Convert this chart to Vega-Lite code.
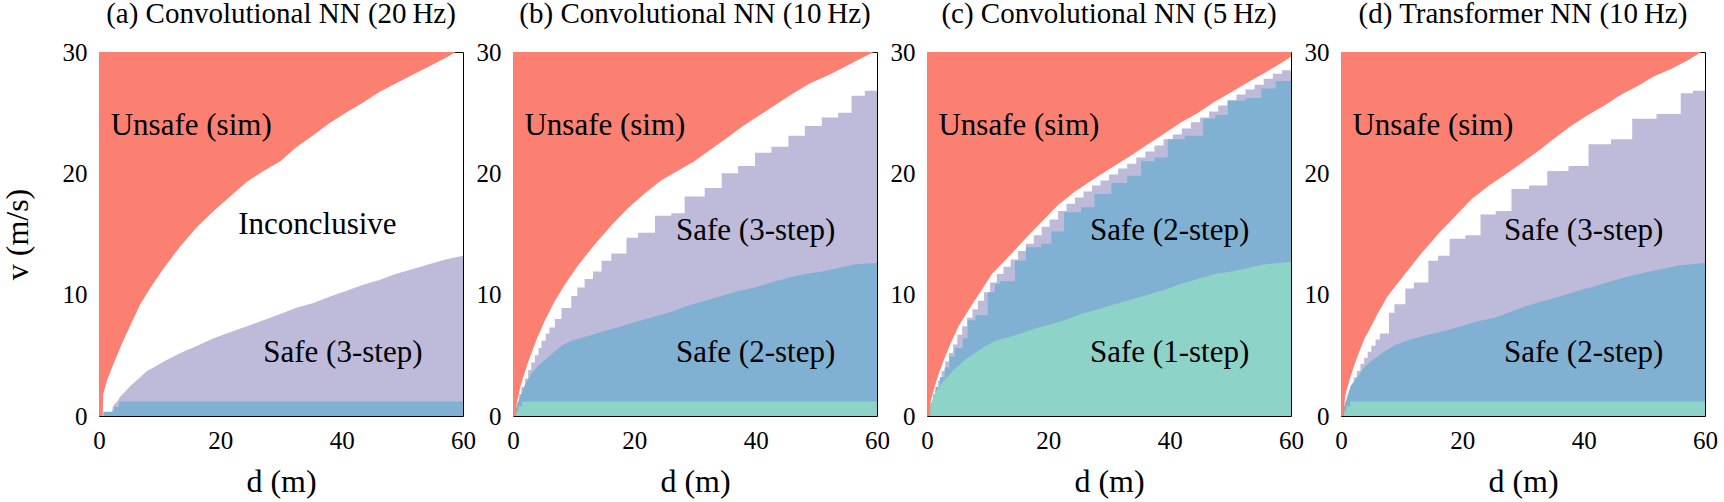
{
"$schema": "https://vega.github.io/schema/vega-lite/v6.json",
"background": "white",
"padding": {"left": 0, "top": -1, "right": 2, "bottom": 2},
"spacing": 50,
"bounds": "flush",
"config": {
  "font": "Liberation Serif",
  "view": {"stroke": "black", "strokeWidth": 1},
  "axis": {"labelFont": "Liberation Serif", "labelFontSize": 25, "labelColor": "black", "labelPadding": 12, "labelFlush": false, "labelOverlap": false, "ticks": false, "domain": false, "grid": false, "titleFont": "Liberation Serif", "titleFontSize": 32, "titleFontWeight": "normal", "titleColor": "black"},
  "axisX": {"titlePadding": 13},
  "axisY": {"titlePadding": 28},
  "title": {"font": "Liberation Serif", "fontSize": 29, "fontWeight": "normal", "color": "black", "anchor": "middle", "baseline": "alphabetic", "offset": 11}
},
"datasets": {
  "labels": [
    {"p":"a","t":"Unsafe (sim)","d":15.2,"v":23.17},
    {"p":"a","t":"Inconclusive","d":36.0,"v":14.96},
    {"p":"a","t":"Safe (3-step)","d":40.2,"v":4.45},
    {"p":"b","t":"Unsafe (sim)","d":15.15,"v":23.17},
    {"p":"b","t":"Safe (3-step)","d":40.0,"v":14.47},
    {"p":"b","t":"Safe (2-step)","d":40.0,"v":4.45},
    {"p":"c","t":"Unsafe (sim)","d":15.15,"v":23.17},
    {"p":"c","t":"Safe (2-step)","d":40.0,"v":14.47},
    {"p":"c","t":"Safe (1-step)","d":40.0,"v":4.45},
    {"p":"d","t":"Unsafe (sim)","d":15.15,"v":23.17},
    {"p":"d","t":"Safe (3-step)","d":40.0,"v":14.47},
    {"p":"d","t":"Safe (2-step)","d":40.0,"v":4.45}
  ],
  "aR": [{"d":0,"v":0},{"d":0.6,"v":0},{"d":0.7,"v":1.8},{"d":1.3,"v":2.9},{"d":2.4,"v":4.3},{"d":3.8,"v":6.0},{"d":5.2,"v":7.5},{"d":6.8,"v":9.2},{"d":8.5,"v":10.6},{"d":10.7,"v":12.2},{"d":13.4,"v":14.0},{"d":16.2,"v":15.6},{"d":18.9,"v":16.9},{"d":21.6,"v":18.1},{"d":24.4,"v":19.3},{"d":27.1,"v":20.2},{"d":29.9,"v":21.0},{"d":32.4,"v":22.1},{"d":35.2,"v":23.1},{"d":37.9,"v":24.1},{"d":40.7,"v":25.0},{"d":43.4,"v":25.8},{"d":46.2,"v":26.7},{"d":48.9,"v":27.4},{"d":51.6,"v":28.1},{"d":54.4,"v":28.8},{"d":57.1,"v":29.5},{"d":58.8,"v":30},{"d":60,"v":30}],
  "aL": [{"d":0,"v":0},{"d":2.0,"v":0},{"d":2.3,"v":0.8},{"d":3.0,"v":1.2},{"d":3.5,"v":1.6},{"d":4.1,"v":1.9},{"d":5.2,"v":2.5},{"d":6.8,"v":3.2},{"d":7.9,"v":3.7},{"d":9.0,"v":4.0},{"d":10.7,"v":4.5},{"d":13.4,"v":5.2},{"d":16.2,"v":5.8},{"d":18.9,"v":6.4},{"d":21.6,"v":6.9},{"d":24.4,"v":7.4},{"d":27.1,"v":7.9},{"d":29.9,"v":8.4},{"d":32.4,"v":8.9},{"d":35.2,"v":9.3},{"d":37.9,"v":9.8},{"d":40.7,"v":10.3},{"d":43.4,"v":10.8},{"d":46.2,"v":11.2},{"d":48.9,"v":11.7},{"d":51.6,"v":12.1},{"d":54.4,"v":12.5},{"d":57.1,"v":12.9},{"d":60,"v":13.2}],
  "aB": [{"d":0,"v":0},{"d":0.7,"v":0.35},{"d":2.5,"v":0.75},{"d":3.3,"v":1.2},{"d":60,"v":1.2}],
  "bR": [{"d":0,"v":0},{"d":0.5,"v":0},{"d":0.6,"v":1.0},{"d":1.3,"v":2.6},{"d":2.4,"v":4.3},{"d":3.8,"v":6.2},{"d":5.2,"v":7.8},{"d":6.8,"v":9.4},{"d":8.5,"v":10.8},{"d":10.7,"v":12.4},{"d":13.4,"v":14.1},{"d":16.2,"v":15.7},{"d":18.9,"v":17.1},{"d":21.6,"v":18.3},{"d":24.4,"v":19.4},{"d":27.1,"v":20.2},{"d":29.9,"v":21.0},{"d":32.4,"v":21.9},{"d":35.2,"v":22.9},{"d":37.9,"v":23.9},{"d":40.7,"v":24.8},{"d":43.4,"v":25.7},{"d":46.2,"v":26.6},{"d":48.9,"v":27.4},{"d":51.6,"v":28.0},{"d":54.4,"v":28.7},{"d":57.1,"v":29.4},{"d":59.5,"v":30},{"d":60,"v":30}],
  "bL": [{"d":0,"v":0},{"d":0.4,"v":0.6},{"d":0.7,"v":1.2},{"d":1.0,"v":1.8},{"d":1.4,"v":2.4},{"d":2.0,"v":3.1},{"d":2.5,"v":3.8},{"d":3.0,"v":4.4},{"d":3.6,"v":5.0},{"d":4.2,"v":5.6},{"d":4.7,"v":6.2},{"d":5.4,"v":6.8},{"d":6.0,"v":7.3},{"d":6.9,"v":8.0},{"d":8.0,"v":8.9},{"d":9.6,"v":9.9},{"d":10.6,"v":10.6},{"d":11.8,"v":11.3},{"d":13.2,"v":11.9},{"d":14.6,"v":12.8},{"d":16.2,"v":13.4},{"d":18.7,"v":14.7},{"d":20.6,"v":15.1},{"d":23.4,"v":16.5},{"d":26.1,"v":16.7},{"d":28.3,"v":18.1},{"d":31.6,"v":18.8},{"d":34.4,"v":20.0},{"d":37.1,"v":20.6},{"d":39.9,"v":21.7},{"d":42.6,"v":22.2},{"d":45.4,"v":23.1},{"d":48.1,"v":23.9},{"d":50.9,"v":24.6},{"d":53.6,"v":25.0},{"d":55.8,"v":26.4},{"d":58.0,"v":26.8},{"d":60,"v":27.0}],
  "bB": [{"d":0,"v":0},{"d":0.3,"v":0},{"d":0.4,"v":0.5},{"d":0.8,"v":1.1},{"d":1.9,"v":2.5},{"d":3.0,"v":3.5},{"d":4.1,"v":4.1},{"d":5.2,"v":4.6},{"d":6.6,"v":5.2},{"d":8.0,"v":5.8},{"d":9.6,"v":6.2},{"d":12.4,"v":6.6},{"d":15.1,"v":7.0},{"d":17.9,"v":7.4},{"d":20.6,"v":7.8},{"d":23.4,"v":8.2},{"d":26.1,"v":8.6},{"d":28.9,"v":9.1},{"d":31.6,"v":9.5},{"d":34.4,"v":9.9},{"d":37.1,"v":10.3},{"d":39.9,"v":10.6},{"d":42.6,"v":11.0},{"d":45.4,"v":11.4},{"d":48.1,"v":11.7},{"d":50.9,"v":11.9},{"d":53.6,"v":12.2},{"d":56.4,"v":12.5},{"d":60,"v":12.6}],
  "bT": [{"d":0,"v":0},{"d":0.3,"v":0.4},{"d":0.9,"v":0.8},{"d":1.5,"v":1.2},{"d":60,"v":1.2}],
  "cR": [{"d":0,"v":0},{"d":0.5,"v":0},{"d":0.6,"v":1.2},{"d":1.2,"v":2.3},{"d":1.8,"v":3.3},{"d":2.4,"v":4.1},{"d":3.0,"v":4.9},{"d":4.0,"v":6.1},{"d":5.2,"v":7.4},{"d":6.8,"v":8.7},{"d":8.5,"v":10.0},{"d":10.7,"v":11.7},{"d":13.4,"v":13.1},{"d":16.2,"v":14.6},{"d":18.9,"v":16.0},{"d":21.6,"v":17.4},{"d":24.4,"v":18.5},{"d":27.1,"v":19.4},{"d":30.2,"v":20.4},{"d":33.7,"v":21.5},{"d":36.4,"v":22.4},{"d":39.2,"v":23.3},{"d":41.9,"v":24.2},{"d":44.7,"v":25.0},{"d":47.4,"v":25.9},{"d":50.2,"v":26.7},{"d":52.9,"v":27.5},{"d":55.7,"v":28.3},{"d":58.4,"v":29.1},{"d":60,"v":29.6}],
  "cL": [{"d":0,"v":0},{"d":0.6,"v":0.8},{"d":0.9,"v":1.4},{"d":1.3,"v":2.1},{"d":1.8,"v":2.9},{"d":2.4,"v":3.7},{"d":3.0,"v":4.5},{"d":3.6,"v":5.2},{"d":4.3,"v":5.9},{"d":5.0,"v":6.7},{"d":5.8,"v":7.4},{"d":6.6,"v":8.1},{"d":7.5,"v":8.8},{"d":8.4,"v":9.5},{"d":9.4,"v":10.2},{"d":10.4,"v":11.0},{"d":11.5,"v":11.7},{"d":12.6,"v":12.3},{"d":13.8,"v":12.9},{"d":15.0,"v":13.6},{"d":16.3,"v":14.2},{"d":17.6,"v":14.9},{"d":18.9,"v":15.6},{"d":20.2,"v":16.2},{"d":21.6,"v":16.9},{"d":23.0,"v":17.5},{"d":24.4,"v":18.0},{"d":25.8,"v":18.5},{"d":27.2,"v":19.0},{"d":28.6,"v":19.4},{"d":30.0,"v":19.9},{"d":31.5,"v":20.4},{"d":33.0,"v":20.8},{"d":34.5,"v":21.3},{"d":36.0,"v":21.8},{"d":37.5,"v":22.3},{"d":39.0,"v":22.8},{"d":40.5,"v":23.2},{"d":42.0,"v":23.7},{"d":43.5,"v":24.2},{"d":45.0,"v":24.6},{"d":46.5,"v":25.1},{"d":48.0,"v":25.6},{"d":49.5,"v":26.0},{"d":51.0,"v":26.5},{"d":52.5,"v":26.9},{"d":54.0,"v":27.3},{"d":55.5,"v":27.8},{"d":57.0,"v":28.2},{"d":58.5,"v":28.5},{"d":60,"v":28.5}],
  "cB": [{"d":0,"v":0},{"d":0.2,"v":0.4},{"d":0.6,"v":1.1},{"d":1.0,"v":1.8},{"d":1.4,"v":2.4},{"d":2.1,"v":3.2},{"d":2.9,"v":4.0},{"d":3.7,"v":4.9},{"d":4.6,"v":5.6},{"d":5.9,"v":6.4},{"d":6.7,"v":7.9},{"d":8.0,"v":8.3},{"d":10.0,"v":10.2},{"d":11.2,"v":10.9},{"d":12.0,"v":11.1},{"d":14.5,"v":12.8},{"d":16.3,"v":13.9},{"d":18.8,"v":14.2},{"d":20.5,"v":15.2},{"d":22.6,"v":16.8},{"d":25.4,"v":17.2},{"d":27.6,"v":18.3},{"d":30.4,"v":19.2},{"d":33.0,"v":19.8},{"d":35.3,"v":21.0},{"d":37.5,"v":21.3},{"d":39.7,"v":22.8},{"d":42.5,"v":23.1},{"d":45.5,"v":24.5},{"d":47.5,"v":24.8},{"d":49.6,"v":26.0},{"d":52.5,"v":26.2},{"d":55.1,"v":27.0},{"d":57.5,"v":27.6},{"d":60,"v":27.6}],
  "cT": [{"d":0,"v":0},{"d":0.2,"v":0},{"d":0.3,"v":0.4},{"d":0.7,"v":1.1},{"d":1.3,"v":1.9},{"d":2.4,"v":2.7},{"d":3.5,"v":3.3},{"d":4.6,"v":3.9},{"d":6.2,"v":4.6},{"d":7.9,"v":5.2},{"d":9.5,"v":5.7},{"d":11.2,"v":6.2},{"d":13.4,"v":6.5},{"d":15.5,"v":6.8},{"d":17.7,"v":7.2},{"d":19.9,"v":7.5},{"d":22.7,"v":7.9},{"d":25.4,"v":8.4},{"d":28.2,"v":8.8},{"d":30.9,"v":9.2},{"d":33.7,"v":9.6},{"d":36.4,"v":10.0},{"d":39.2,"v":10.4},{"d":41.9,"v":10.9},{"d":44.7,"v":11.3},{"d":47.4,"v":11.7},{"d":50.2,"v":11.9},{"d":52.9,"v":12.2},{"d":55.7,"v":12.5},{"d":60,"v":12.7}],
  "dR": [{"d":0,"v":0},{"d":0.5,"v":0},{"d":0.6,"v":1.2},{"d":0.8,"v":1.9},{"d":1.6,"v":3.3},{"d":2.4,"v":4.5},{"d":3.8,"v":6.3},{"d":5.2,"v":7.6},{"d":6.0,"v":8.4},{"d":7.7,"v":9.9},{"d":8.5,"v":10.4},{"d":10.7,"v":11.8},{"d":13.4,"v":13.5},{"d":16.2,"v":15.1},{"d":18.9,"v":16.5},{"d":21.6,"v":17.9},{"d":24.4,"v":19.0},{"d":27.1,"v":19.9},{"d":29.9,"v":20.9},{"d":32.4,"v":21.8},{"d":35.2,"v":22.9},{"d":37.9,"v":23.9},{"d":40.7,"v":24.8},{"d":43.4,"v":25.6},{"d":46.2,"v":26.5},{"d":48.9,"v":27.2},{"d":51.6,"v":28.0},{"d":54.4,"v":28.6},{"d":57.1,"v":29.3},{"d":59.4,"v":30},{"d":60,"v":30}],
  "dL": [{"d":0,"v":0},{"d":0.4,"v":0.6},{"d":0.7,"v":1.2},{"d":1.1,"v":1.8},{"d":1.6,"v":2.5},{"d":2.1,"v":3.2},{"d":2.6,"v":3.7},{"d":3.2,"v":4.3},{"d":3.8,"v":4.8},{"d":4.4,"v":5.3},{"d":5.0,"v":5.8},{"d":5.7,"v":6.3},{"d":6.4,"v":6.8},{"d":7.9,"v":8.5},{"d":8.8,"v":9.2},{"d":10.6,"v":10.5},{"d":12.0,"v":11.0},{"d":14.4,"v":12.8},{"d":16.0,"v":13.2},{"d":17.9,"v":14.6},{"d":20.5,"v":14.9},{"d":23.0,"v":16.6},{"d":25.5,"v":16.9},{"d":28.1,"v":18.7},{"d":31.0,"v":19.0},{"d":34.0,"v":20.2},{"d":37.5,"v":20.6},{"d":40.8,"v":22.4},{"d":44.5,"v":22.8},{"d":48.0,"v":24.5},{"d":52.0,"v":24.9},{"d":56.0,"v":26.6},{"d":58.0,"v":26.8},{"d":60,"v":26.9}],
  "dB": [{"d":0,"v":0},{"d":0.3,"v":0},{"d":0.4,"v":0.6},{"d":0.8,"v":1.2},{"d":1.6,"v":2.5},{"d":2.7,"v":3.2},{"d":3.8,"v":4.0},{"d":4.9,"v":4.5},{"d":6.0,"v":4.9},{"d":7.7,"v":5.5},{"d":9.1,"v":5.9},{"d":11.5,"v":6.3},{"d":14.3,"v":6.7},{"d":17.0,"v":7.0},{"d":19.8,"v":7.4},{"d":22.5,"v":7.8},{"d":25.3,"v":8.1},{"d":28.0,"v":8.6},{"d":30.8,"v":9.1},{"d":33.5,"v":9.5},{"d":36.3,"v":9.9},{"d":39.0,"v":10.3},{"d":41.8,"v":10.7},{"d":44.5,"v":11.1},{"d":47.3,"v":11.5},{"d":50.0,"v":11.8},{"d":52.7,"v":12.1},{"d":55.5,"v":12.4},{"d":60,"v":12.6}],
  "dT": [{"d":0,"v":0},{"d":0.3,"v":0.4},{"d":0.9,"v":0.8},{"d":1.5,"v":1.2},{"d":60,"v":1.2}]
},
"hconcat": [
  {
    "title": "(a) Convolutional NN (20\u2009Hz)",
    "width": 364, "height": 364,
    "encoding": {
      "x": {"field": "d", "type": "quantitative", "scale": {"domain": [0, 60], "nice": false}, "axis": {"values": [0, 20, 40, 60], "title": "d (m)"}},
      "y": {"field": "v", "type": "quantitative", "scale": {"domain": [0, 30], "nice": false}, "axis": {"values": [0, 10, 20, 30], "title": "v (m/s)"}}
    },
    "layer": [
      {"data": {"name": "aL"}, "mark": {"type": "area", "color": "#BEBADA", "opacity": 1}},
      {"data": {"name": "aB"}, "mark": {"type": "area", "color": "#80B1D3", "opacity": 1, "interpolate": "step-after"}},
      {"data": {"name": "aR"}, "mark": {"type": "area", "color": "#FB8072", "opacity": 1}, "encoding": {"y2": {"datum": 30}}},
      {"data": {"name": "labels"}, "transform": [{"filter": "datum.p == 'a'"}], "mark": {"type": "text", "font": "Liberation Serif", "fontSize": 31, "color": "black", "align": "center", "baseline": "alphabetic"}, "encoding": {"text": {"field": "t"}}}
    ]
  },
  {
    "title": "(b) Convolutional NN (10\u2009Hz)",
    "width": 364, "height": 364,
    "encoding": {
      "x": {"field": "d", "type": "quantitative", "scale": {"domain": [0, 60], "nice": false}, "axis": {"values": [0, 20, 40, 60], "title": "d (m)"}},
      "y": {"field": "v", "type": "quantitative", "scale": {"domain": [0, 30], "nice": false}, "axis": {"values": [0, 10, 20, 30], "title": null}}
    },
    "layer": [
      {"data": {"name": "bL"}, "mark": {"type": "area", "color": "#BEBADA", "opacity": 1, "interpolate": "step-after"}},
      {"data": {"name": "bB"}, "mark": {"type": "area", "color": "#80B1D3", "opacity": 1}},
      {"data": {"name": "bT"}, "mark": {"type": "area", "color": "#8DD3C7", "opacity": 1, "interpolate": "step-after"}},
      {"data": {"name": "bR"}, "mark": {"type": "area", "color": "#FB8072", "opacity": 1}, "encoding": {"y2": {"datum": 30}}},
      {"data": {"name": "labels"}, "transform": [{"filter": "datum.p == 'b'"}], "mark": {"type": "text", "font": "Liberation Serif", "fontSize": 31, "color": "black", "align": "center", "baseline": "alphabetic"}, "encoding": {"text": {"field": "t"}}}
    ]
  },
  {
    "title": "(c) Convolutional NN (5\u2009Hz)",
    "width": 364, "height": 364,
    "encoding": {
      "x": {"field": "d", "type": "quantitative", "scale": {"domain": [0, 60], "nice": false}, "axis": {"values": [0, 20, 40, 60], "title": "d (m)"}},
      "y": {"field": "v", "type": "quantitative", "scale": {"domain": [0, 30], "nice": false}, "axis": {"values": [0, 10, 20, 30], "title": null}}
    },
    "layer": [
      {"data": {"name": "cL"}, "mark": {"type": "area", "color": "#BEBADA", "opacity": 1, "interpolate": "step-after"}},
      {"data": {"name": "cB"}, "mark": {"type": "area", "color": "#80B1D3", "opacity": 1, "interpolate": "step-after"}},
      {"data": {"name": "cT"}, "mark": {"type": "area", "color": "#8DD3C7", "opacity": 1}},
      {"data": {"name": "cR"}, "mark": {"type": "area", "color": "#FB8072", "opacity": 1}, "encoding": {"y2": {"datum": 30}}},
      {"data": {"name": "labels"}, "transform": [{"filter": "datum.p == 'c'"}], "mark": {"type": "text", "font": "Liberation Serif", "fontSize": 31, "color": "black", "align": "center", "baseline": "alphabetic"}, "encoding": {"text": {"field": "t"}}}
    ]
  },
  {
    "title": "(d) Transformer NN (10\u2009Hz)",
    "width": 364, "height": 364,
    "encoding": {
      "x": {"field": "d", "type": "quantitative", "scale": {"domain": [0, 60], "nice": false}, "axis": {"values": [0, 20, 40, 60], "title": "d (m)"}},
      "y": {"field": "v", "type": "quantitative", "scale": {"domain": [0, 30], "nice": false}, "axis": {"values": [0, 10, 20, 30], "title": null}}
    },
    "layer": [
      {"data": {"name": "dL"}, "mark": {"type": "area", "color": "#BEBADA", "opacity": 1, "interpolate": "step-after"}},
      {"data": {"name": "dB"}, "mark": {"type": "area", "color": "#80B1D3", "opacity": 1}},
      {"data": {"name": "dT"}, "mark": {"type": "area", "color": "#8DD3C7", "opacity": 1, "interpolate": "step-after"}},
      {"data": {"name": "dR"}, "mark": {"type": "area", "color": "#FB8072", "opacity": 1}, "encoding": {"y2": {"datum": 30}}},
      {"data": {"name": "labels"}, "transform": [{"filter": "datum.p == 'd'"}], "mark": {"type": "text", "font": "Liberation Serif", "fontSize": 31, "color": "black", "align": "center", "baseline": "alphabetic"}, "encoding": {"text": {"field": "t"}}}
    ]
  }
]
}
